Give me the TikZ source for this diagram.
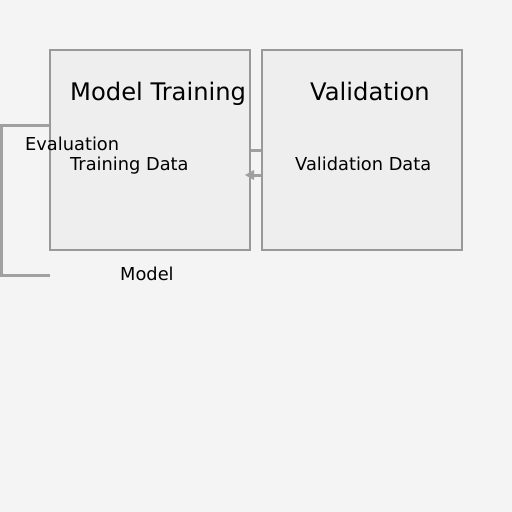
\documentclass[tikz,border=0pt]{standalone}
\usepackage{fontspec}
\setmainfont{DejaVu Sans}
\usetikzlibrary{arrows.meta}
\definecolor{bgc}{HTML}{F4F4F4}
\definecolor{boxfill}{HTML}{EEEEEE}
\definecolor{boxline}{HTML}{999999}
\definecolor{conn}{HTML}{A0A0A0}
\tikzset{
  panel/.style={draw=boxline, fill=boxfill, line width=1.5pt, minimum width=200pt, minimum height=200pt, inner sep=0pt},
  title/.style={font=\fontsize{24.2}{28}\selectfont, anchor=base west, inner sep=0pt, text=black},
  body/.style={font=\fontsize{17.8}{21}\selectfont, anchor=base west, inner sep=0pt, text=black},
  link/.style={draw=conn, line width=3pt},
}
\begin{document}
\begin{tikzpicture}[x=1pt,y=-1pt]
\useasboundingbox[fill=bgc] (0,0) rectangle (512,512);
\node[panel] (train) at (150,150) {};
\node[panel] (valid) at (362,150) {};
% connectors between boxes
\draw[link] (train.east |- 0,150) -- (valid.west |- 0,150);
\coordinate (arrtip) at (245,175);
\draw[link, -{Triangle[length=9pt,width=10pt,line width=0pt]}] (valid.west |- 0,175) -- (arrtip);
% left bracket
\coordinate (b3) at (50,275);
\draw[link] (train.west |- 0,125) -- (1.5,125) -- (1.5,275) -- (b3);
% texts
\node[title] (t1) at (70,100) {Model Training};
\node[title] (t2) at (310,100) {Validation};
\node[body] (d1) at (70,170) {Training Data};
\node[body] (d2) at (295,170) {Validation Data};
\node[body] (ev) at (25,150) {Evaluation};
\node[body] (md) at (120,280) {Model};
\end{tikzpicture}
\end{document}
